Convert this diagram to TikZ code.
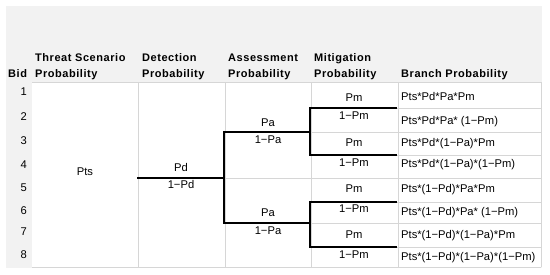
\documentclass[tikz,border=0pt]{standalone}
\usepackage{fontspec}
\setmainfont{Liberation Sans}
\newfontfamily\hdfont[LetterSpace=5]{Liberation Sans}
\definecolor{bggrey}{RGB}{242,242,242}
\definecolor{gridgrey}{RGB}{214,214,214}
\begin{document}
\begin{tikzpicture}[x=1pt,y=-1pt,
  hd/.style={font=\hdfont\bfseries\fontsize{11}{13}\selectfont, anchor=base west, inner sep=0pt},
  cell/.style={font=\fontsize{11.2}{13}\selectfont, inner sep=0pt, text height=8pt, text depth=2.5pt},
  gridline/.style={draw=gridgrey, line width=0.8pt},
  tree/.style={draw=black, line width=2pt}
]
\useasboundingbox (0,0) rectangle (550,274);
\fill[white] (0,0) rectangle (550,274);
\fill[bggrey] (6,6) rectangle (542,268);
\fill[white] (32,82) rectangle (541,267);

% grid
\draw[gridline] (32,82) -- (541,82);
\draw[gridline] (32,267) -- (541,267);
\foreach \x in {138,225,311,398,541} \draw[gridline] (\x,82) -- (\x,267);
\draw[gridline] (225,178) -- (311,178);
\foreach \y in {108,132,155,178,202,223,247} \draw[gridline] (311,\y) -- (541,\y);

% headers
\node[hd] (hbid) at (8,77) {Bid};
\node[hd] (ht1) at (35,61) {Threat Scenario};
\node[hd] (ht2) at (35,77) {Probability};
\node[hd] (hd1) at (142,61) {Detection};
\node[hd] (hd2) at (142,77) {Probability};
\node[hd] (ha1) at (228,61) {Assessment};
\node[hd] (ha2) at (228,77) {Probability};
\node[hd] (hm1) at (314,61) {Mitigation};
\node[hd] (hm2) at (314,77) {Probability};
\node[hd] (hb) at (401,77) {Branch Probability};

% bid numbers
\node[cell, anchor=east] (b1) at (27,93) {1};
\node[cell, anchor=east] (b2) at (27,118) {2};
\node[cell, anchor=east] (b3) at (27,142) {3};
\node[cell, anchor=east] (b4) at (27,166) {4};
\node[cell, anchor=east] (b5) at (27,189) {5};
\node[cell, anchor=east] (b6) at (27,212) {6};
\node[cell, anchor=east] (b7) at (27,233) {7};
\node[cell, anchor=east] (b8) at (27,256) {8};

% threat
\node[cell] (pts) at (85,173) {Pts};

% tree junctions
\coordinate (d0) at (137,178);
\coordinate (d1) at (224,178);
\coordinate (a1) at (224,132);
\coordinate (a2) at (224,223);
\coordinate (a1e) at (310,132);
\coordinate (a2e) at (310,223);
\coordinate (m1) at (310,108);
\coordinate (m2) at (310,155);
\coordinate (m3) at (310,202);
\coordinate (m4) at (310,247);
\coordinate (m1e) at (397,108);
\coordinate (m2e) at (397,155);
\coordinate (m3e) at (397,202);
\coordinate (m4e) at (397,247);

\draw[tree] (d0) -- (d1);
\draw[tree] (a1e) -- (a1) -- (a2) -- (a2e);
\draw[tree] (m1e) -- (m1) -- (m2) -- (m2e);
\draw[tree] (m3e) -- (m3) -- (m4) -- (m4e);

% detection labels
\node[cell] (pd) at (181,169) {Pd};
\node[cell] (npd) at (181,186) {1−Pd};

% assessment labels
\node[cell] (pa1) at (268,123.5) {Pa};
\node[cell] (npa1) at (268,141) {1−Pa};
\node[cell] (pa2) at (268,213.5) {Pa};
\node[cell] (npa2) at (268,231.5) {1−Pa};

% mitigation labels
\node[cell] (pm1) at (354,99) {Pm};
\node[cell] (npm1) at (354,117) {1−Pm};
\node[cell] (pm2) at (354,144) {Pm};
\node[cell] (npm2) at (354,164) {1−Pm};
\node[cell] (pm3) at (354,190) {Pm};
\node[cell] (npm3) at (354,209.5) {1−Pm};
\node[cell] (pm4) at (354,236) {Pm};
\node[cell] (npm4) at (354,256) {1−Pm};

% branch probabilities
\node[cell, anchor=west] (r1) at (401,98) {Pts*Pd*Pa*Pm};
\node[cell, anchor=west] (r2) at (401,122) {Pts*Pd*Pa* (1−Pm)};
\node[cell, anchor=west] (r3) at (401,144) {Pts*Pd*(1−Pa)*Pm};
\node[cell, anchor=west] (r4) at (401,165) {Pts*Pd*(1−Pa)*(1−Pm)};
\node[cell, anchor=west] (r5) at (401,190) {Pts*(1−Pd)*Pa*Pm};
\node[cell, anchor=west] (r6) at (401,213) {Pts*(1−Pd)*Pa* (1−Pm)};
\node[cell, anchor=west] (r7) at (401,236) {Pts*(1−Pd)*(1−Pa)*Pm};
\node[cell, anchor=west] (r8) at (401,258) {Pts*(1−Pd)*(1−Pa)*(1−Pm)};
\end{tikzpicture}
\end{document}
